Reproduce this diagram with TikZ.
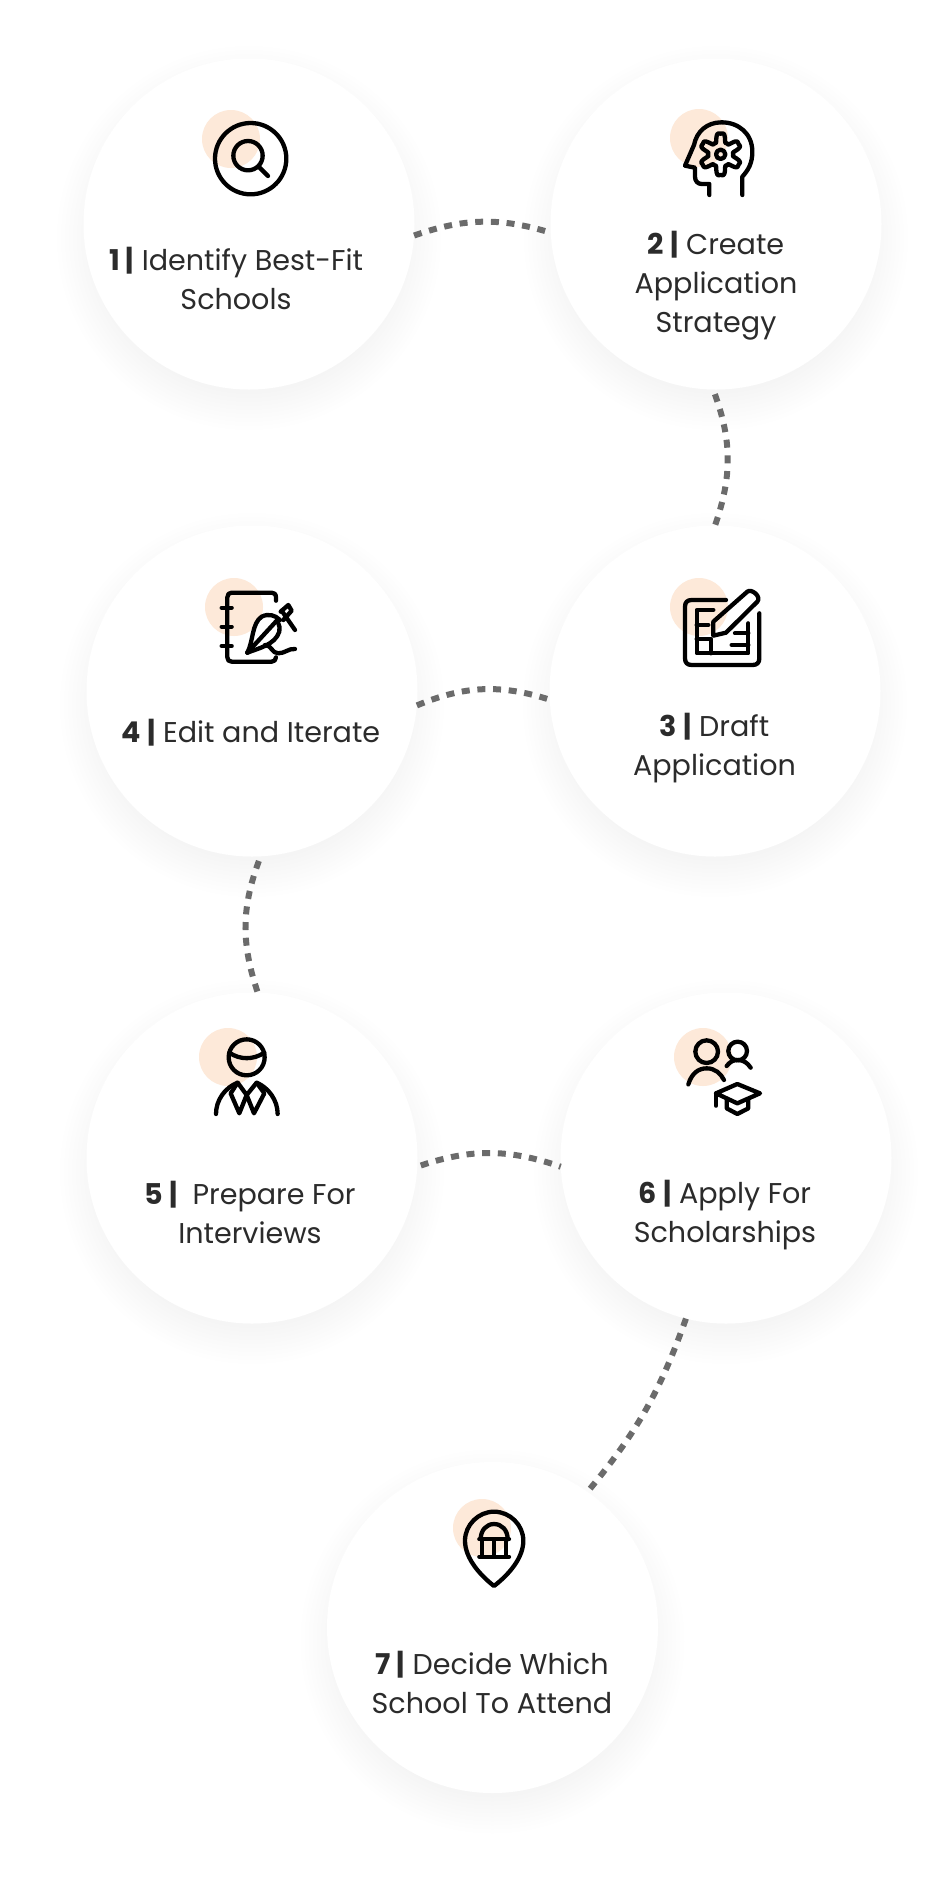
\documentclass[tikz,border=0pt]{standalone}
\usepackage{fontspec}
\setmainfont{Poppins}
\definecolor{peach}{HTML}{FDE9D9}
\definecolor{ink}{HTML}{2B2B2B}
\definecolor{linkgray}{HTML}{6B6B6B}
\begin{document}
\begin{tikzpicture}[x=1pt,y=-1pt]
\tikzstyle{Disc} = [draw=none, fill=white, shape=circle, minimum size=331pt, inner sep=0, outer sep=0]
\tikzstyle{Label} = [font={\fontsize{28.6}{39}\selectfont}, text=ink, align=center, inner sep=0]
\tikzstyle{Link} = [draw=linkgray, line width=6pt, dash pattern=on 8pt off 7.7pt]
\tikzstyle{Blob} = [fill=peach, draw=none]
\tikzstyle{Icon} = [draw=black, line width=4.3pt, line cap=round, line join=round]
\tikzstyle{Zoomed} = [x=0.3333pt, y=-0.3333pt]
\useasboundingbox (0,0) rectangle (949,1877);
\foreach \n/\cx/\cy in {1/249/224, 2/716/224, 3/715/691, 4/252/691, 5/252/1158, 6/726/1158, 7/492.5/1627.5} {
  \foreach \r in {192,188,...,156} {
    \fill [black, opacity=0.004] (\cx,\cy+14) circle [radius=\r pt];
  }
  \node [Disc] (v\n) at (\cx,\cy) {};
}
\fill [Blob] (231,139) circle [radius=29pt];
\fill [Blob] (699,138) circle [radius=29pt];
\fill [Blob] (699,607) circle [radius=29pt];
\fill [Blob] (234,607) circle [radius=29pt];
\fill [Blob] (228,1057) circle [radius=29pt];
\fill [Blob] (703,1057) circle [radius=29pt];
\fill [Blob] (482,1528) circle [radius=29pt];
\node [Label] (t1) at (236,278) {\textbf{1 |} Identify Best-Fit\\Schools};
\node [Label] (t2) at (716,285.5) {\textbf{2 |} Create\\Application\\Strategy};
\node [Label] (t3) at (714.5,748) {\textbf{3 |} Draft\\Application};
\node [Label] (t4) at (251,733) {\textbf{4 |} Edit and Iterate};
\node [Label] (t5) at (250,1212.5) {\textbf{5 |}\ \ Prepare For\\Interviews};
\node [Label] (t6) at (725,1215) {\textbf{6 |} Apply For\\Scholarships};
\node [Label] (t7) at (492,1682.5) {\textbf{7 |} Decide Which\\School To Attend};
\draw [Link] (v1.-4) to [bend left=18] (v2.183);
\draw [Link, dash phase=10.7pt] (v2.-91) to [bend left=20] (v3.90);
\draw [Link] (v4.-5) to [bend left=20] (v3.183);
\draw [Link, dash phase=10.7pt] (v4.-87) to [bend right=20] (v5.88);
\draw [Link, dash phase=12pt] (v5.-3) to [bend left=19] (v6.183);
\draw [Link] (v6.-104) to [bend left=10] (v7.55);
% magnifier
\begin{scope}[shift={(180,90)},Zoomed]
\draw [Icon] (212,206) circle [x radius=107, y radius=107];
\draw [Icon] (204,197) circle [x radius=44, y radius=44];
\draw [Icon] (236,230) -- (264,258);
\end{scope}
% head with gear
\begin{scope}[shift={(650,95)},Zoomed]
\draw [Icon] (277,300) -- (277,245) .. controls (295,225) and (307,205) .. (307,170) .. controls (307,115) and (265,82) .. (215,82) .. controls (170,82) and (140,110) .. (132,150) -- (105,212) -- (135,218) -- (135,245) .. controls (135,258) and (143,267) .. (155,267) -- (178,267) -- (178,300);
\draw [Icon] plot [smooth cycle, samples=145, domain=0:357.5] ({212+(50-15*(cos(6*\x)-0.2*cos(18*\x)))*cos(\x)},{178+(50-15*(cos(6*\x)-0.2*cos(18*\x)))*sin(\x)});
\draw [Icon] (212,178) circle [x radius=14, y radius=14];
\end{scope}
% draft sheet with pencil
\begin{scope}[shift={(650,570)},Zoomed]
\draw [Icon] (228,90) -- (125,90) .. controls (112,90) and (105,97) .. (105,110) -- (105,265) .. controls (105,278) and (112,285) .. (125,285) -- (308,285) .. controls (321,285) and (328,278) .. (328,265) -- (328,130);
\draw [Icon] (190,120) -- (140,120) -- (140,250) -- (295,250) -- (295,160);
\draw [Icon] (140,165) -- (175,165);
\draw [Icon] (140,207) -- (182,207) -- (182,250);
\draw [Icon] (255,190) -- (295,190);
\draw [Icon] (245,225) -- (295,225);
\draw [Icon] (190,197) -- (190,155) -- (292,65) .. controls (305,55) and (335,80) .. (322,95) -- (228,188) -- cycle;
\end{scope}
% notebook with quill
\begin{scope}[shift={(190,570)},Zoomed]
\draw [Icon] (258,92) -- (258,82) .. controls (258,72) and (252,68) .. (245,68) -- (125,68) .. controls (117,68) and (112,73) .. (112,82) -- (112,262) .. controls (112,270) and (117,275) .. (125,275) -- (245,275) .. controls (252,275) and (258,270) .. (258,262);
\draw [Icon] (95,113) -- (125,113);
\draw [Icon] (95,170) -- (125,170);
\draw [Icon] (95,228) -- (125,228);
\draw [Icon] (172,248) .. controls (190,215) and (185,160) .. (215,140) .. controls (235,130) and (255,135) .. (270,150);
\draw [Icon] (172,248) .. controls (205,235) and (255,225) .. (268,185) .. controls (270,175) and (268,165) .. (265,160);
\draw [Icon] (172,248) -- (262,150);
\draw [Icon] (272,125) -- (295,105) -- (305,122) -- (280,150);
\draw [Icon] (275,122) -- (315,180);
\draw [Icon] (225,225) .. controls (245,225) and (245,250) .. (265,250) .. controls (285,250) and (295,235) .. (315,237);
\end{scope}
% person in suit
\begin{scope}[shift={(185,1015)},Zoomed]
\draw [Icon] (185,127) circle [x radius=54, y radius=54];
\draw [Icon] (133,113) .. controls (165,135) and (205,135) .. (238,113);
\draw [Icon] (93,297) .. controls (93,255) and (120,218) .. (158,203) -- (185,240) -- (215,203) .. controls (250,218) and (278,255) .. (278,297);
\draw [Icon] (158,203) -- (137,235) -- (163,295) -- (185,240) -- (207,295) -- (238,235) -- (215,203);
\end{scope}
% two people and cap
\begin{scope}[shift={(660,1015)},Zoomed]
\draw [Icon] (140,110) circle [x radius=34, y radius=34];
\draw [Icon] (85,208) .. controls (95,175) and (115,160) .. (140,160) .. controls (165,160) and (182,175) .. (192,195);
\draw [Icon] (233,108) circle [x radius=28, y radius=28];
\draw [Icon] (200,153) .. controls (210,140) and (220,135) .. (233,135) .. controls (250,135) and (262,143) .. (272,158);
\draw [Icon] (168,235) -- (232,207) -- (300,235) -- (232,265) -- cycle;
\draw [Icon] (168,235) -- (168,272);
\draw [Icon] (200,255) -- (200,280) -- (232,297) -- (265,280) -- (265,255);
\end{scope}
% map pin with building
\begin{scope}[shift={(440,1490)},Zoomed]
\draw [Icon] (162,288) .. controls (120,255) and (75,205) .. (75,152) .. controls (75,105) and (115,65) .. (162,65) .. controls (210,65) and (250,105) .. (250,152) .. controls (250,205) and (205,255) .. (162,288) -- cycle;
\draw [Icon] (118,148) -- (207,148);
\draw [Icon] (122,148) .. controls (122,120) and (140,102) .. (162,102) .. controls (185,102) and (203,120) .. (203,148);
\draw [Icon] (127,150) -- (127,197);
\draw [Icon] (162,150) -- (162,197);
\draw [Icon] (198,150) -- (198,197);
\draw [Icon] (118,200) -- (207,200);
\end{scope}
\end{tikzpicture}
\end{document}
